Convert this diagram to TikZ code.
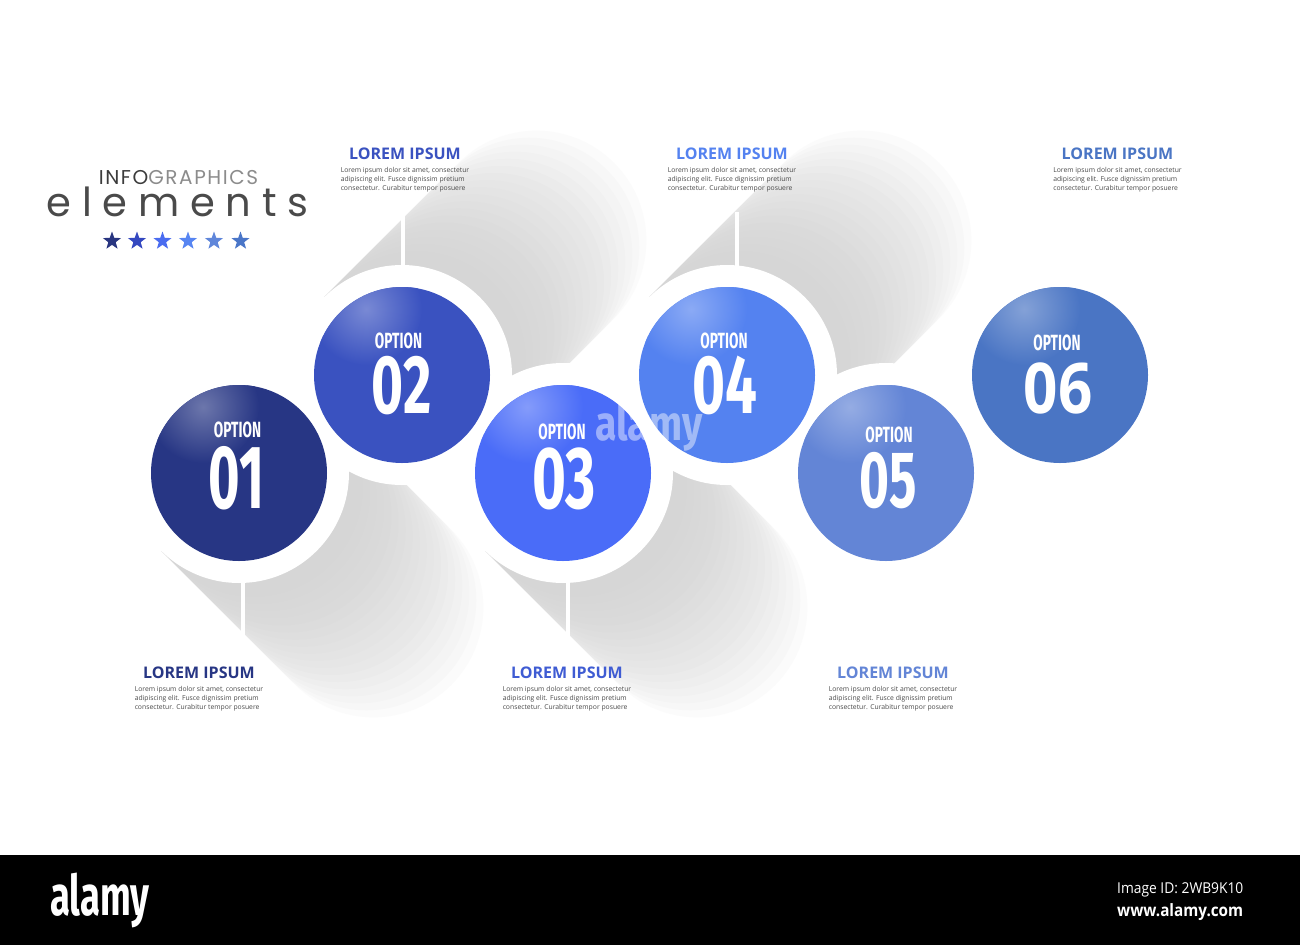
\documentclass[tikz,border=0pt]{standalone}
\usepackage{graphicx}
\usepackage{fontspec}
\setmainfont{Open Sans}
\newfontfamily\firafont{Fira Sans}
\newfontfamily\popspaced[LetterSpace=8]{Poppins}
\newfontfamily\elemfont[LetterSpace=27]{Poppins}
\usetikzlibrary{calc,shapes.geometric}

\definecolor{cA}{HTML}{273684}
\definecolor{cB}{HTML}{3A52C0}
\definecolor{cC}{HTML}{4A6CF8}
\definecolor{cD}{HTML}{5482F0}
\definecolor{cE}{HTML}{6385D6}
\definecolor{cF}{HTML}{4A75C4}
\definecolor{sA}{HTML}{283580}
\definecolor{sB}{HTML}{3448C0}
\definecolor{sC}{HTML}{4A6CF0}
\definecolor{sD}{HTML}{5785F2}
\definecolor{sE}{HTML}{5F86DA}
\definecolor{sF}{HTML}{4A76C8}
\definecolor{bodygray}{HTML}{4A4A4A}
\definecolor{shadowgray}{HTML}{CDCDCD}
\definecolor{headdark}{HTML}{3C3C3C}
\definecolor{headlight}{HTML}{8C8C8C}
\definecolor{elemgray}{HTML}{4A4A4A}

% long shadow built from overlapping translucent layers (soft fading end)
\newcommand\ShadowDR[1]{%
  \foreach \L in {20,30,...,190}{%
    \fill[shadowgray, opacity=0.07]
      ($(#1)+(45:110pt)$) -- ++({\L/1.4142},{\L/1.4142}) arc[start angle=45, end angle=-135, radius=110pt]
      -- ($(#1)+(225:110pt)$) -- cycle;}}
\newcommand\ShadowUR[1]{%
  \foreach \L in {20,30,...,190}{%
    \fill[shadowgray, opacity=0.07]
      ($(#1)+(-45:110pt)$) -- ++({\L/1.4142},{-\L/1.4142}) arc[start angle=-45, end angle=135, radius=110pt]
      -- ($(#1)+(135:110pt)$) -- cycle;}}
\newcommand\Gloss[2]{%
  \begin{scope}
    \clip (#1) circle[radius=88pt];
    \shade[inner color=white!32!#2, outer color=#2] ($(#1)+(-36,-66)$) circle[radius=56pt];
  \end{scope}}
\newcommand\OptLabel{\scalebox{0.62}[1]{\firafont\bfseries\fontsize{22}{22}\selectfont OPTION}}
\newcommand\BigNum[3]{\scalebox{#2}[1]{\firafont\bfseries\fontsize{#1}{#1}\selectfont #3}}
\newcommand\LoremBody{Lorem ipsum dolor sit amet, consectetur\\adipiscing elit. Fusce dignissim pretium\\consectetur. Curabitur tempor posuere}

\tikzset{
  ring/.style={circle, fill=white, minimum size=220pt, inner sep=0pt},
  disc/.style={circle, minimum size=176pt, inner sep=0pt},
  conn/.style={draw=white, line width=4.5pt},
  opt/.style={anchor=base, inner sep=0pt, text=white},
  ttl/.style={anchor=base, inner sep=0pt, font=\bfseries\fontsize{16}{16}\selectfont},
  body/.style={anchor=north, inner sep=0pt, align=left, text=bodygray, font=\fontsize{6.8}{9}\selectfont},
  starshape/.style={star, star points=5, star point ratio=2.45, minimum size=19pt, inner sep=0pt, draw=none},
  bartext/.style={anchor=base west, inner sep=0pt, text=white}
}

\begin{document}
\begin{tikzpicture}[x=1pt,y=-1pt]
\useasboundingbox (0,0) rectangle (1300,945);
\fill[white] (0,0) rectangle (1300,945);

% centres
\coordinate (p1) at (239,473);
\coordinate (p2) at (402,375);
\coordinate (p3) at (563,473);
\coordinate (p4) at (727,375);
\coordinate (p5) at (886,473);
\coordinate (p6) at (1060,375);

% long shadows
\ShadowDR{p1}
\ShadowUR{p2}
\ShadowDR{p3}
\ShadowUR{p4}

% white rings
\node[ring] (r1) at (p1) {};
\node[ring] (r2) at (p2) {};
\node[ring] (r3) at (p3) {};
\node[ring] (r4) at (p4) {};
\node[ring] (r5) at (p5) {};
\node[ring] (r6) at (p6) {};

% connectors
\coordinate (k1) at (243,655);
\coordinate (k2) at (403,212);
\coordinate (k3) at (568,655);
\coordinate (k4) at (737,212);
\draw[conn] ([xshift=4pt,yshift=3pt]r1.south) -- (k1);
\draw[conn] ([xshift=1pt,yshift=-3pt]r2.north) -- (k2);
\draw[conn] ([xshift=5pt,yshift=3pt]r3.south) -- (k3);
\draw[conn] ([xshift=10pt,yshift=-3pt]r4.north) -- (k4);

% coloured discs
\node[disc, fill=cA] (d1) at (p1) {};
\node[disc, fill=cB] (d2) at (p2) {};
\node[disc, fill=cC] (d3) at (p3) {};
\node[disc, fill=cD] (d4) at (p4) {};
\node[disc, fill=cE] (d5) at (p5) {};
\node[disc, fill=cF] (d6) at (p6) {};
\Gloss{p1}{cA}\Gloss{p2}{cB}\Gloss{p3}{cC}\Gloss{p4}{cD}\Gloss{p5}{cE}\Gloss{p6}{cF}

% option labels and numbers
\node[opt] (o1) at (237.5,437) {\OptLabel};
\node[opt] (n1) at (236.5,508) {\BigNum{90}{0.6}{01}};
\node[opt] (o2) at (398.5,348) {\OptLabel};
\node[opt] (n2) at (401.5,413) {\BigNum{83}{0.66}{02}};
\node[opt] (o3) at (562,439) {\OptLabel};
\node[opt] (n3) at (564,508) {\BigNum{88}{0.66}{03}};
\node[opt] (o4) at (724,348) {\OptLabel};
\node[opt] (n4) at (725,413) {\BigNum{83}{0.68}{04}};
\node[opt] (o5) at (889,442) {\OptLabel};
\node[opt] (n5) at (888,507) {\BigNum{80}{0.64}{05}};
\node[opt] (o6) at (1057,350) {\OptLabel};
\node[opt] (n6) at (1058,413) {\scalebox{0.86}[1]{\bfseries\fontsize{70}{70}\selectfont 06}};

% watermark
\node[bartext, opacity=0.45] (wm) at (595,440) {\scalebox{0.8}[1]{\firafont\bfseries\fontsize{49}{49}\selectfont alamy}};

% text blocks
\node[ttl, text=cB] (h2) at (405,159) {LOREM IPSUM};
\node[body] (b2) at (405,166.8) {\LoremBody};
\node[ttl, text=cD] (h4) at (732,159) {LOREM IPSUM};
\node[body] (b4) at (732,166.8) {\LoremBody};
\node[ttl, text=cF] (h6) at (1117.5,159) {LOREM IPSUM};
\node[body] (b6) at (1117.5,166.8) {\LoremBody};
\node[ttl, text=cA] (h1) at (199,678) {LOREM IPSUM};
\node[body] (b1) at (199,685.8) {\LoremBody};
\node[ttl, text=cC!85!black] (h3) at (567,678) {LOREM IPSUM};
\node[body] (b3) at (567,685.8) {\LoremBody};
\node[ttl, text=cE] (h5) at (893,678) {LOREM IPSUM};
\node[body] (b5) at (893,685.8) {\LoremBody};

% heading
\node[anchor=base, inner sep=0pt] (hinfo) at (178.5,184) {\popspaced\fontsize{20}{20}\selectfont\textcolor{headdark}{INFO}\textcolor{headlight}{GRAPHICS}};
\node[anchor=base, inner sep=0pt, text=elemgray] (helem) at (177.5,216) {\elemfont\fontsize{40}{40}\selectfont elements};
\node[starshape, fill=sA] (s1) at (112,241) {};
\node[starshape, fill=sB] (s2) at (137,241) {};
\node[starshape, fill=sC] (s3) at (162.5,241) {};
\node[starshape, fill=sD] (s4) at (188,241) {};
\node[starshape, fill=sE] (s5) at (214,241) {};
\node[starshape, fill=sF] (s6) at (240.5,241) {};

% bottom bar
\fill[black] (0,855) rectangle (1300,945);
\node[bartext] (logo) at (50,915) {\scalebox{0.65}[1]{\firafont\bfseries\fontsize{56}{56}\selectfont alamy}};
\node[bartext] (imgid) at (1117,893) {\scalebox{0.92}[1]{\fontsize{15}{15}\selectfont Image ID: 2WB9K10}};
\node[bartext] (url) at (1117,916) {\scalebox{0.9}[1]{\bfseries\fontsize{17}{17}\selectfont www.alamy.com}};
\end{tikzpicture}
\end{document}
